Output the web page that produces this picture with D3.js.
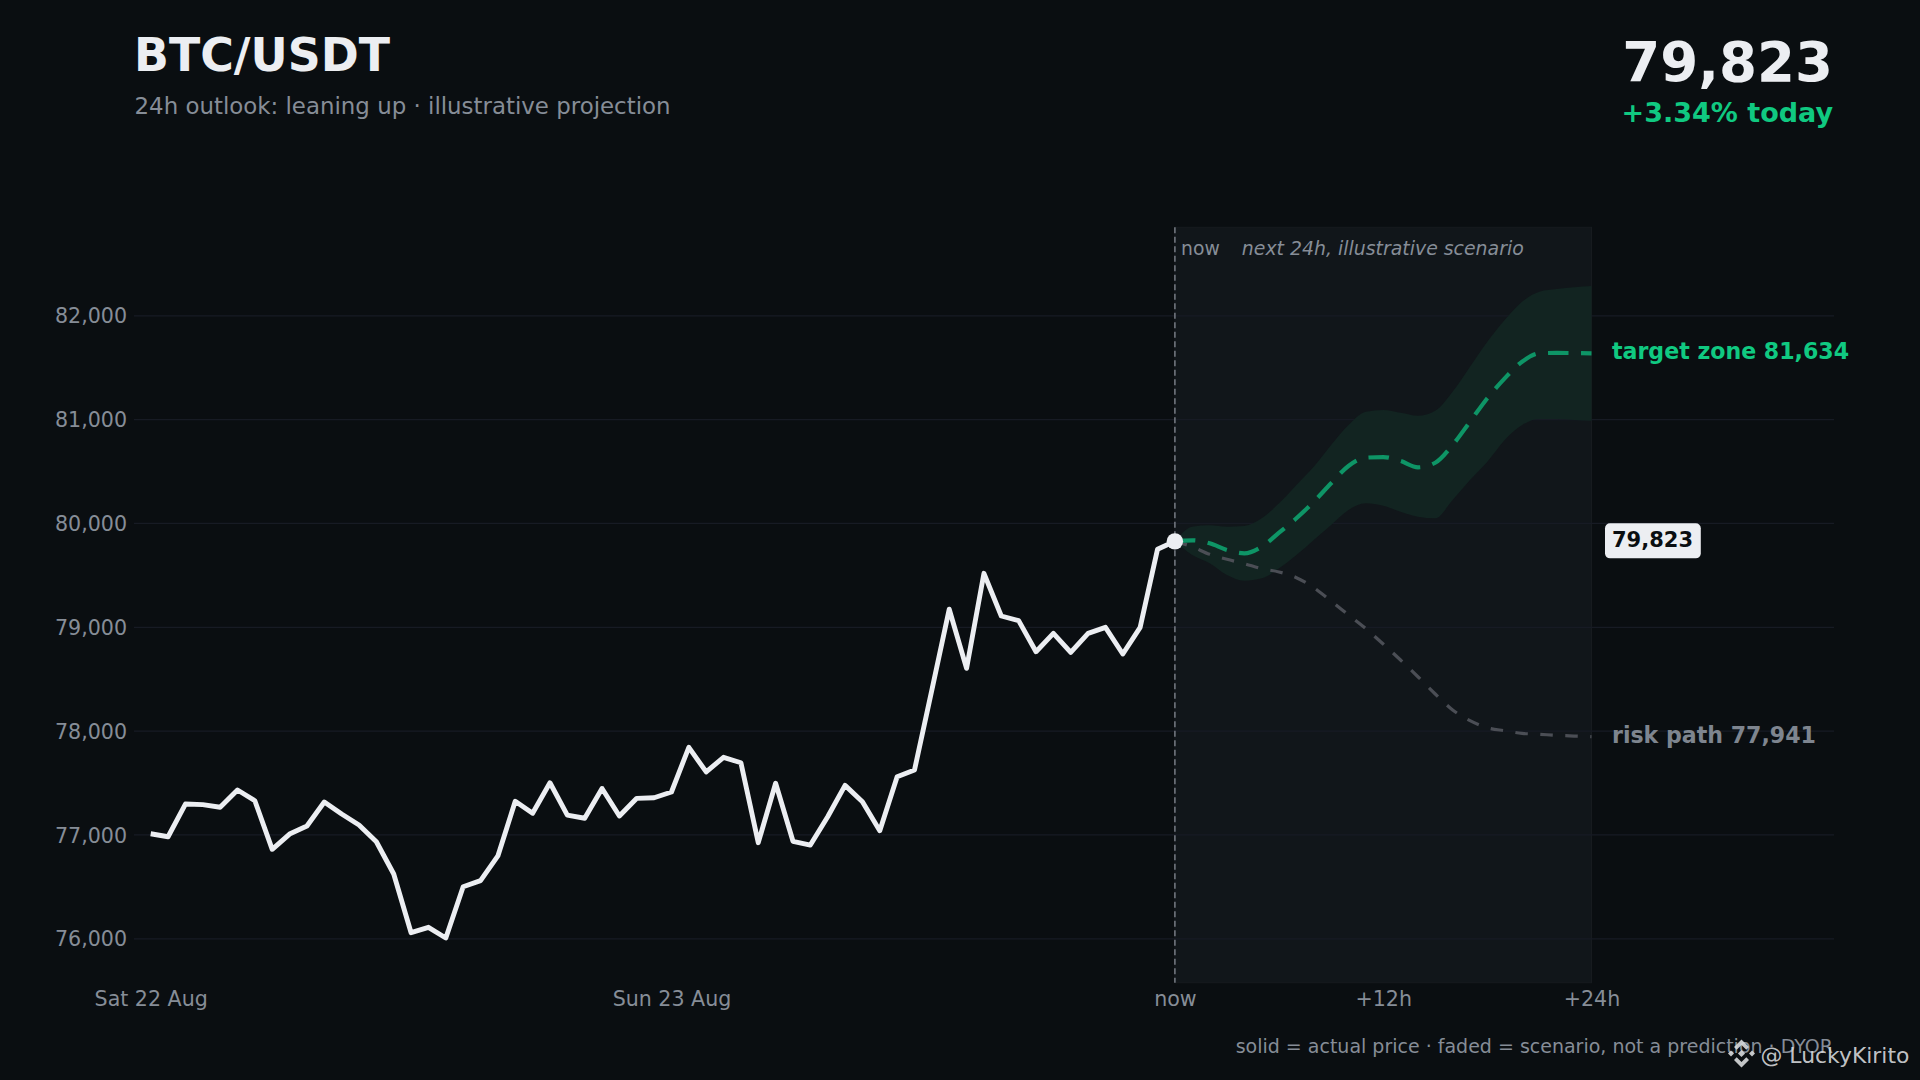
<!DOCTYPE html>
<html>

<head>
  <meta charset="utf-8">
  <script src="https://d3js.org/d3.v7.min.js"></script>
  <style>
    html, body { margin: 0; padding: 0; background: #0a0e11; }
    svg { display: block; }
    text { font-family: "DejaVu Sans", sans-serif; }
    .grid line { stroke: #171b24; stroke-width: 1.2; }
    .grid text, .xticks text { fill: #868d97; font-size: 20.6px; }
  </style>
</head>

<body>
  <div id="chart"></div>
  <script type="text/javascript">
    // hourly closes, last value is "now"
    var actualPrice = [
      77007, 76978, 77293, 77287, 77262, 77428, 77325, 76857, 77004, 77081,
      77313, 77197, 77091, 76930, 76619, 76054, 76106, 76003, 76497, 76555,
      76793, 77319, 77204, 77498, 77187, 77156, 77443, 77178, 77348, 77354,
      77409, 77839, 77602, 77743, 77691, 76921, 77493, 76934, 76898, 77171,
      77473, 77315, 77036, 77556, 77621, 78391, 79169, 78600, 79515, 79104,
      79059, 78760, 78937, 78754, 78937, 78995, 78738, 78995, 79746, 79823
    ];

    // scenario, one value per hour from now to +24h
    var targetPath = [
      79823, 79833, 79804, 79740, 79708, 79771, 79906, 80045, 80205, 80382, 80549, 80629, 80635,
      80597, 80536, 80580, 80751, 80975, 81201, 81393, 81553, 81634, 81638, 81636, 81634
    ];
    var bandUpper = [
      79823, 79964, 79977, 79964, 79971, 80045, 80189, 80366, 80542, 80751, 80943, 81072, 81088,
      81062, 81033, 81081, 81264, 81505, 81746, 81955, 82131, 82227, 82253, 82270, 82282
    ];
    var bandLower = [
      79823, 79691, 79612, 79499, 79444, 79467, 79563, 79691, 79836, 79980, 80125, 80189, 80166,
      80108, 80060, 80045, 80221, 80414, 80590, 80799, 80943, 81001, 81001, 80992, 80985
    ];
    var riskPath = [
      79823, 79771, 79698, 79650, 79608, 79560, 79528, 79473, 79377, 79248, 79114, 78982, 78834,
      78680, 78519, 78353, 78199, 78096, 78028, 77999, 77974, 77965, 77955, 77948, 77941
    ];

    var yTicks = [76000, 77000, 78000, 79000, 80000, 81000, 82000];
    var xTickIndex = [0, 30, 59, 71, 83];
    var xTickLabels = ["Sat 22 Aug", "Sun 23 Aug", "now", "+12h", "+24h"];

    var nowIndex = actualPrice.length - 1;
    var lastPrice = 79823, targetPrice = 81634, riskPrice = 77941;

    var width = 1920, height = 1080;
    var plotLeft = 134, plotRight = 1834, plotTop = 227.3, plotBottom = 982.7;

    var svg = d3.select("#chart").append("svg")
      .attr("width", width)
      .attr("height", height);

    svg.append("rect").attr("width", width).attr("height", height).attr("fill", "#0a0e11");

    var x = d3.scaleLinear().domain([0, nowIndex + 24]).range([150.7, 1591.5]);
    var y = d3.scaleLinear().domain([76000, 82000]).range([938.3, 315.3]);
    var fmt = d3.format(",");

    // scenario shading
    svg.append("rect")
      .attr("x", x(nowIndex))
      .attr("y", plotTop)
      .attr("width", x(nowIndex + 24) - x(nowIndex))
      .attr("height", plotBottom - plotTop)
      .attr("fill", "#11161a")
      .attr("stroke", "#171b1f")
      .attr("stroke-width", 1);

    // y axis doubles as the grid
    var yAxis = d3.axisLeft(y)
      .tickValues(yTicks)
      .tickFormat(fmt)
      .tickSize(-(plotRight - plotLeft))
      .tickPadding(7);

    var gridG = svg.append("g")
      .attr("class", "grid")
      .attr("transform", "translate(" + plotLeft + ",0)")
      .call(yAxis);
    gridG.select(".domain").remove();
    gridG.selectAll("text").attr("y", 1);

    var xAxis = d3.axisBottom(x)
      .tickValues(xTickIndex)
      .tickFormat(function(d, i) { return xTickLabels[i]; })
      .tickSize(0)
      .tickPadding(0);

    var xG = svg.append("g")
      .attr("class", "xticks")
      .attr("transform", "translate(0," + plotBottom + ")")
      .call(xAxis);
    xG.select(".domain").remove();
    xG.selectAll("text").attr("dy", null).attr("y", 23.5);

    // now marker
    svg.append("line")
      .attr("x1", x(nowIndex)).attr("x2", x(nowIndex))
      .attr("y1", plotTop).attr("y2", plotBottom)
      .attr("stroke", "#6b7078")
      .attr("stroke-width", 1.7)
      .attr("stroke-dasharray", "6 3.5");

    var future = d3.range(0, 25);

    var band = d3.area()
      .x(function(d) { return x(nowIndex + d); })
      .y0(function(d) { return y(bandLower[d]); })
      .y1(function(d) { return y(bandUpper[d]); })
      .curve(d3.curveMonotoneX);

    svg.append("path")
      .attr("d", band(future))
      .attr("fill", "#122421");

    function scenarioLine(values) {
      return d3.line()
        .x(function(d) { return x(nowIndex + d); })
        .y(function(d) { return y(values[d]); })
        .curve(d3.curveMonotoneX)(future);
    }

    svg.append("path")
      .attr("d", scenarioLine(riskPath))
      .attr("fill", "none")
      .attr("stroke", "#4b4e55")
      .attr("stroke-width", 3.2)
      .attr("stroke-dasharray", "12.5 12.5");

    svg.append("path")
      .attr("d", scenarioLine(targetPath))
      .attr("fill", "none")
      .attr("stroke", "#0e9566")
      .attr("stroke-width", 4.2)
      .attr("stroke-dasharray", "20.5 12.5");

    var line = d3.line()
      .x(function(d, i) { return x(i); })
      .y(function(d) { return y(d); });

    svg.append("path")
      .attr("d", line(actualPrice))
      .attr("fill", "none")
      .attr("stroke", "#eceef2")
      .attr("stroke-width", 4.9)
      .attr("stroke-linejoin", "round");

    svg.append("circle")
      .attr("cx", x(nowIndex))
      .attr("cy", y(lastPrice))
      .attr("r", 8.2)
      .attr("fill", "#eceef2");

    // end labels
    svg.append("text").attr("x", 1612).attr("y", y(targetPrice) + 5.6)
      .attr("font-size", 22.1).attr("font-weight", "bold").attr("fill", "#10c981")
      .text("target zone " + fmt(targetPrice));

    svg.append("text").attr("x", 1612).attr("y", y(riskPrice) + 6.2)
      .attr("font-size", 22.1).attr("font-weight", "bold").attr("fill", "#7e858f")
      .text("risk path " + fmt(riskPrice));

    svg.append("rect")
      .attr("x", 1605).attr("y", y(lastPrice) - 18)
      .attr("width", 95.8).attr("height", 35)
      .attr("rx", 5)
      .attr("fill", "#eceef2");

    svg.append("text").attr("x", 1612).attr("y", y(lastPrice) + 5.4)
      .attr("font-size", 21).attr("font-weight", "bold").attr("fill", "#0a0e11")
      .text(fmt(lastPrice));

    svg.append("text").attr("x", 1181).attr("y", 254.5)
      .attr("font-size", 18.8).attr("fill", "#868d97")
      .text("now");

    svg.append("text").attr("x", 1241.8).attr("y", 254.5)
      .attr("font-size", 18.9).attr("font-style", "italic").attr("fill", "#868d97")
      .text("next 24h, illustrative scenario");

    // header
    svg.append("text").attr("x", 134).attr("y", 70.5)
      .attr("font-size", 45.8).attr("font-weight", "bold").attr("fill", "#eceef2")
      .text("BTC/USDT");

    svg.append("text").attr("x", 134.5).attr("y", 113.5)
      .attr("font-size", 22.9).attr("fill", "#868d97")
      .text("24h outlook: leaning up \u00b7 illustrative projection");

    svg.append("text").attr("x", 1833).attr("y", 81)
      .attr("text-anchor", "end")
      .attr("font-size", 54.6).attr("font-weight", "bold").attr("fill", "#eceef2")
      .text(fmt(lastPrice));

    svg.append("text").attr("x", 1833).attr("y", 122)
      .attr("text-anchor", "end")
      .attr("font-size", 27).attr("font-weight", "bold").attr("fill", "#10c981")
      .text("+3.34% today");

    svg.append("text").attr("x", 1833).attr("y", 1053)
      .attr("text-anchor", "end")
      .attr("font-size", 19).attr("fill", "#868d97")
      .text("solid = actual price \u00b7 faded = scenario, not a prediction \u00b7 DYOR");

    // watermark
    var mark = svg.append("g")
      .attr("transform", "translate(1741.5,1053.5)")
      .attr("fill", "#d8dadd")
      .attr("fill-opacity", 0.9);
    mark.append("path").attr("d", "M0,-14L7.5,-6.5L4.8,-3.8L0,-8.6L-4.8,-3.8L-7.5,-6.5Z");
    mark.append("path").attr("d", "M0,14L7.5,6.5L4.8,3.8L0,8.6L-4.8,3.8L-7.5,6.5Z");
    mark.append("path").attr("d", "M0,-3.6L3.6,0L0,3.6L-3.6,0Z");
    mark.append("path").attr("d", "M-10.5,-3L-7.5,0L-10.5,3L-13.5,0Z");
    mark.append("path").attr("d", "M10.5,-3L13.5,0L10.5,3L7.5,0Z");

    svg.append("text").attr("x", 1760.5).attr("y", 1062.7)
      .attr("font-size", 21.9).attr("fill", "#d8dadd").attr("fill-opacity", 0.9)
      .text("@ LuckyKirito");
  </script>
</body>

</html>
